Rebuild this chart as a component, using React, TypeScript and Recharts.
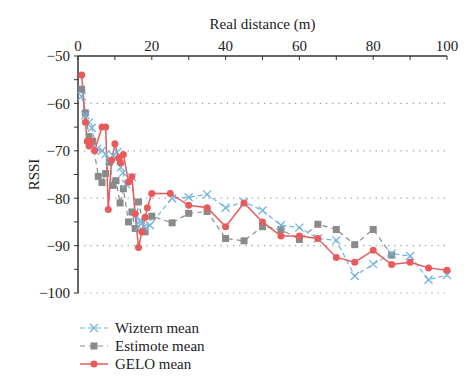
import { Line, LineChart, ReferenceLine, XAxis, YAxis } from 'recharts';

// Distance (m) and mean RSSI
const wizternX = [1, 2, 3, 3.7, 5.2, 6.5, 7.5, 8.5, 9.5, 10.6, 11.6, 12.2, 13, 14.7, 15.5, 16.5, 17, 18, 19.5, 25.5, 30, 35, 40, 45, 50, 55, 60, 65, 70, 75, 80, 85, 90, 95, 100];
const wizternY = [-58.5, -62.5, -64, -65.2, -69.6, -70, -70.7, -72, -71, -70.3, -73.5, -74.6, -77, -75.6, -84, -86, -84.7, -86, -85.7, -80, -79.8, -79.2, -82, -80.8, -82.6, -85.7, -86.2, -88.5, -88.9, -96.4, -93.9, -91.7, -92.2, -97.2, -96.2];

const estimoteX = [1, 2, 3, 4, 5.5, 6.5, 7.5, 8.5, 9.5, 10.3, 11.4, 12.3, 13.7, 14.6, 15.5, 16.4, 18.2, 20, 25.5, 30, 35, 40, 45, 50, 55, 60, 65, 70, 75, 80, 85];
const estimoteY = [-57, -62, -67, -68, -75.4, -76.7, -74.8, -72.4, -77.3, -76.3, -81, -78, -85, -82.9, -86.4, -80.8, -87.1, -83.8, -85.2, -83.2, -82.8, -88.5, -89, -86, -86.6, -88.7, -85.5, -86.6, -89.8, -86.6, -92];

const geloX = [1, 2, 2.5, 3, 3.5, 4.5, 6.5, 7.5, 8.2, 9.1, 10, 11, 11.5, 12.3, 13.7, 14.6, 15.5, 16.4, 17.3, 18.2, 18.8, 20, 25, 30, 35, 40, 45, 50, 55, 60, 65, 70, 75, 80, 85, 90, 95, 100];
const geloY = [-54, -64, -68, -69, -68, -70, -65, -65, -82.4, -72, -68.5, -71.5, -72.5, -70.8, -76.6, -75.5, -83.3, -90.4, -87.1, -84, -82, -79, -79, -81.5, -82, -86, -81, -85, -88, -88, -88.5, -92.5, -93.5, -91, -94, -93.5, -94.7, -95.2];

const xTicks = [0, 10, 20, 30, 40, 50, 60, 70, 80, 90, 100];
const yTicks = [-100, -95, -90, -85, -80, -75, -70, -65, -60, -55, -50];
const gridValues = [-60, -70, -80, -90, -100];

const zip = (xs: number[], ys: number[]) => xs.map((x, i) => ({ x, y: ys[i] }));

const BLUE = '#72b4dc';
const GRAY = '#8a8a8a';
const RED = '#e95a5a';
const AXIS = '#333';
const FONT = '"Liberation Serif", "DejaVu Serif", serif';

const PLOT_TOP = 56;

const CrossDot = (props: any) => {
  const { cx, cy, index } = props;
  if (cx == null || cy == null) return <g key={`c-${index}`} />;
  const s = 4;
  return (
    <path
      key={`c-${index}`}
      d={`M${cx - s},${cy - s}L${cx + s},${cy + s}M${cx + s},${cy - s}L${cx - s},${cy + s}`}
      stroke={BLUE}
      strokeWidth={1.3}
      fill="none"
    />
  );
};

const SquareDot = (props: any) => {
  const { cx, cy, index } = props;
  if (cx == null || cy == null) return <g key={`s-${index}`} />;
  return <rect key={`s-${index}`} x={cx - 3.5} y={cy - 3.5} width={7} height={7} fill={GRAY} />;
};

const TopTick = (props: any) => {
  const { x, payload } = props;
  const v = payload.value as number;
  return (
    <g>
      <line x1={x} x2={x} y1={PLOT_TOP} y2={PLOT_TOP + 4} stroke={AXIS} strokeWidth={1} />
      {v % 20 === 0 && (
        <text x={x} y={PLOT_TOP - 5} textAnchor="middle" fontFamily={FONT} fontSize={15} fill="#222">
          {v}
        </text>
      )}
    </g>
  );
};

const fmtY = (v: number) => (v % 10 === 0 ? `\u2212${Math.abs(v)}` : '');

const legendItems = [
  { name: 'Wiztern mean', kind: 'cross' },
  { name: 'Estimote mean', kind: 'square' },
  { name: 'GELO mean', kind: 'circle' },
];

function LegendIcon({ kind }: { kind: string }) {
  if (kind === 'cross') {
    return (
      <svg width={30} height={12}>
        <line x1={1} x2={29} y1={6} y2={6} stroke={BLUE} strokeWidth={1.2} strokeDasharray="5 3" />
        <path d="M11,2L19,10M19,2L11,10" stroke={BLUE} strokeWidth={1.3} />
      </svg>
    );
  }
  if (kind === 'square') {
    return (
      <svg width={30} height={12}>
        <line x1={1} x2={29} y1={6} y2={6} stroke={GRAY} strokeWidth={1.2} strokeDasharray="5 4" />
        <rect x={11.5} y={2.5} width={7} height={7} fill={GRAY} />
      </svg>
    );
  }
  return (
    <svg width={30} height={12}>
      <line x1={1} x2={29} y1={6} y2={6} stroke={RED} strokeWidth={1.5} />
      <circle cx={15} cy={6} r={3.5} fill={RED} />
    </svg>
  );
}

export default function App() {
  return (
    <div style={{ position: 'absolute', left: 0, top: 0, width: 474, height: 387, background: '#fff' }}>
      <LineChart width={474} height={387} margin={{ top: 11, right: 27, left: 28, bottom: 94 }}>
        <XAxis
          type="number"
          dataKey="x"
          orientation="top"
          domain={[0, 100]}
          ticks={xTicks}
          height={45}
          axisLine={{ stroke: AXIS, strokeWidth: 1.5 }}
          tickLine={false}
          tick={<TopTick />}
          interval={0}
          allowDuplicatedCategory={false}
          label={{ value: 'Real distance (m)', position: 'insideTop', offset: 4, dy: 3, fontFamily: FONT, fontSize: 15, fill: '#222' }}
        />
        <YAxis
          type="number"
          dataKey="y"
          domain={[-100, -50]}
          ticks={yTicks}
          width={50}
          interval={0}
          axisLine={{ stroke: AXIS, strokeWidth: 1.5 }}
          tickLine={{ stroke: AXIS }}
          tickSize={4}
          tickMargin={4}
          tickFormatter={fmtY}
          tick={{ fontFamily: FONT, fontSize: 15, fill: '#222' }}
          label={{ value: 'RSSI', angle: -90, position: 'insideLeft', offset: 0, dx: 6, fontFamily: FONT, fontSize: 15, fill: '#222', style: { textAnchor: 'middle' } }}
        />
        {gridValues.map((v) => (
          <ReferenceLine key={v} y={v} stroke="#999" strokeWidth={1.2} strokeDasharray="1.2 5" />
        ))}
        <Line
          data={zip(estimoteX, estimoteY)}
          dataKey="y"
          stroke={GRAY}
          strokeWidth={1.2}
          strokeDasharray="5 4"
          dot={SquareDot}
          activeDot={false}
          isAnimationActive={false}
        />
        <Line
          data={zip(wizternX, wizternY)}
          dataKey="y"
          stroke={BLUE}
          strokeWidth={1.2}
          strokeDasharray="5 3"
          dot={CrossDot}
          activeDot={false}
          isAnimationActive={false}
        />
        <Line
          data={zip(geloX, geloY)}
          dataKey="y"
          stroke={RED}
          strokeWidth={1.5}
          dot={{ r: 3.5, fill: RED, stroke: RED, strokeWidth: 0 }}
          activeDot={false}
          isAnimationActive={false}
        />
      </LineChart>
      <div style={{ position: 'absolute', left: 79, top: 319, fontFamily: FONT, fontSize: 15, color: '#222' }}>
        {legendItems.map((it) => (
          <div key={it.name} style={{ display: 'flex', alignItems: 'center', height: 18 }}>
            <LegendIcon kind={it.kind} />
            <span style={{ marginLeft: 6 }}>{it.name}</span>
          </div>
        ))}
      </div>
    </div>
  );
}
